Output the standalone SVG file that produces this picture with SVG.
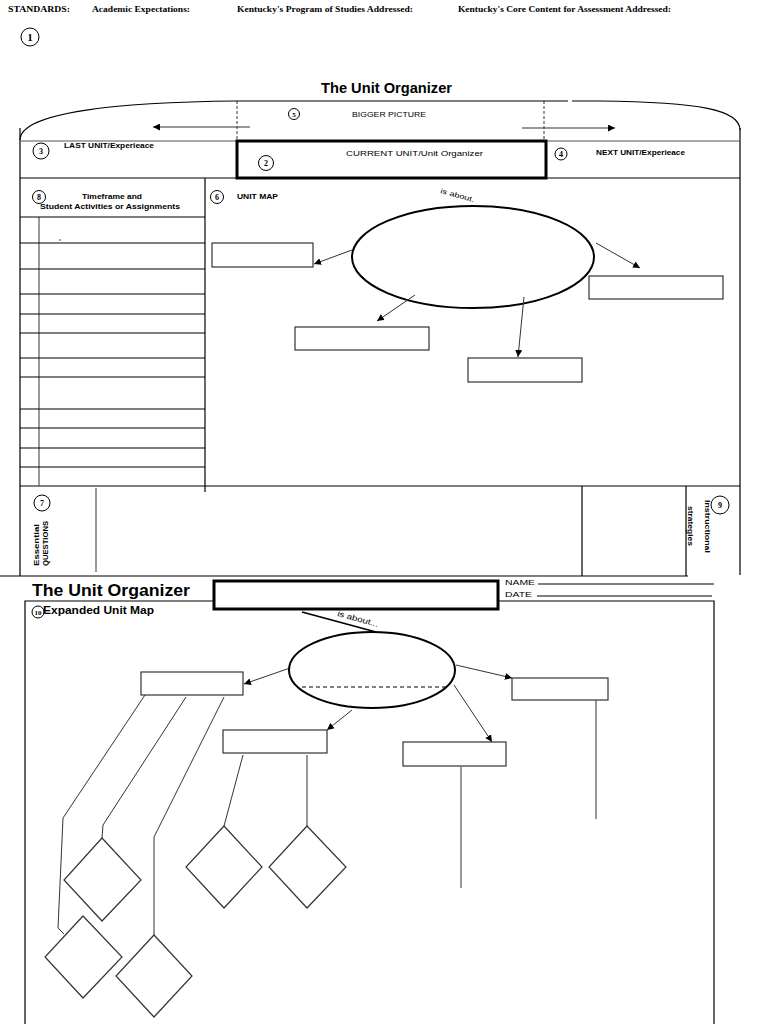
<svg xmlns="http://www.w3.org/2000/svg" width="768" height="1024" viewBox="0 0 768 1024">
<style>
.ser{font-family:"Liberation Serif",serif;font-weight:bold;font-size:9px;fill:#000}
.lbl{font-family:"Liberation Sans",Arial,sans-serif;font-size:7px;fill:#000}
.lblb{font-family:"Liberation Sans",Arial,sans-serif;font-size:7px;font-weight:bold;fill:#000}
.ttl{font-family:"Liberation Sans",Arial,sans-serif;font-weight:bold;fill:#000}
.box{fill:#fff;stroke:#333;stroke-width:1.2}
.thick{fill:#fff;stroke:#000;stroke-width:3}
.ln{stroke:#000;stroke-width:1.2;fill:none}
.lg{stroke:#555;stroke-width:1.2;fill:none}
.con{stroke:#333;stroke-width:1;fill:none}
.num{fill:#fff;stroke:#000;stroke-width:1}
.numt{font-family:"Liberation Serif",serif;font-size:8px;font-weight:bold;text-anchor:middle;fill:#000}
</style>
<defs>
<marker id="ah" viewBox="0 0 10 10" refX="10" refY="5" markerWidth="7" markerHeight="7" markerUnits="userSpaceOnUse" orient="auto">
<path d="M0,0 L10,5 L0,10 z" fill="#000"/>
</marker>
</defs>
<rect width="768" height="1024" fill="#fff"/>

<g id="standards">
<text class="ser" x="8" y="12" textLength="62" lengthAdjust="spacingAndGlyphs">STANDARDS:</text>
<text class="ser" x="92" y="12" textLength="98" lengthAdjust="spacingAndGlyphs">Academic Expectations:</text>
<text class="ser" x="237" y="12" textLength="176" lengthAdjust="spacingAndGlyphs">Kentucky's Program of Studies Addressed:</text>
<text class="ser" x="458" y="12" textLength="213" lengthAdjust="spacingAndGlyphs">Kentucky's Core Content for Assessment Addressed:</text>
<circle class="num" cx="30" cy="37" r="9"/>
<text class="numt" x="30" y="41" style="font-size:11px">1</text>
</g>

<g id="title1">
<text class="ttl" x="321" y="93" font-size="14" textLength="131" lengthAdjust="spacingAndGlyphs">The Unit Organizer</text>
</g>

<g id="frame1">
<path class="ln" d="M20,140 C20,112 120,102 237,101 L568,101" stroke-width="1.8"/>
<path class="ln" d="M572,101 L600,101 C700,102 740,110 740,130" stroke-width="1.8"/>
<line class="ln" x1="740" y1="128" x2="740" y2="575" stroke-width="1.5"/>
<line class="ln" x1="20" y1="128" x2="20" y2="576" stroke-width="1.5"/>
<line class="lg" x1="20" y1="141" x2="740" y2="141"/>
<line class="ln" x1="20" y1="178" x2="740" y2="178" stroke-width="1.5"/>
<line x1="237" y1="101" x2="237" y2="141" stroke="#000" stroke-width="0.8" stroke-dasharray="3,2"/>
<line x1="544" y1="101" x2="544" y2="141" stroke="#000" stroke-width="0.8" stroke-dasharray="3,2"/>
<line class="ln" x1="20" y1="486" x2="740" y2="486" stroke-width="2"/>
<line class="ln" x1="0" y1="576" x2="688" y2="576" stroke-width="1.5"/>
</g>

<g id="bigger-picture">
<circle class="num" cx="294" cy="114" r="5.5"/>
<text class="numt" x="294" y="117" style="font-size:7px">5</text>
<text class="lbl" x="352" y="117" textLength="74" lengthAdjust="spacingAndGlyphs">BIGGER PICTURE</text>
</g>

<g id="last-unit">
<circle class="num" cx="41" cy="151" r="8"/>
<text class="numt" x="41" y="154">3</text>
<text class="lblb" x="64" y="148" textLength="90" lengthAdjust="spacingAndGlyphs">LAST UNIT/Experieace</text>
</g>

<g id="current-unit">
<rect class="thick" x="237" y="141" width="309" height="37"/>
<circle class="num" cx="266" cy="163" r="7.5"/>
<text class="numt" x="266" y="166">2</text>
<text class="lbl" x="346" y="156" textLength="137" lengthAdjust="spacingAndGlyphs">CURRENT UNIT/Unit Organizer</text>
</g>

<g id="next-unit">
<circle class="num" cx="561" cy="154" r="6"/>
<text class="numt" x="561" y="157">4</text>
<text class="lblb" x="596" y="155" textLength="89" lengthAdjust="spacingAndGlyphs">NEXT UNIT/Experieace</text>
</g>

<g id="timeframe">
<line class="ln" x1="205" y1="178" x2="205" y2="492" stroke-width="1.5"/>
<line class="lg" x1="39" y1="217" x2="39" y2="486"/>
<circle class="num" cx="39" cy="197" r="6.5"/>
<text class="numt" x="39" y="200">8</text>
<text class="lblb" x="82" y="199" textLength="60" lengthAdjust="spacingAndGlyphs">Timeframe and</text>
<text class="lblb" x="40" y="209" textLength="140" lengthAdjust="spacingAndGlyphs">Student Activities or Assignments</text>
<g class="ln">
<line x1="20" y1="217" x2="205" y2="217"/>
<line x1="20" y1="243" x2="205" y2="243"/>
<line x1="20" y1="269" x2="205" y2="269"/>
<line x1="20" y1="294" x2="205" y2="294"/>
<line x1="20" y1="314" x2="205" y2="314"/>
<line x1="20" y1="333" x2="205" y2="333"/>
<line x1="20" y1="358" x2="205" y2="358"/>
<line x1="20" y1="377" x2="205" y2="377"/>
<line x1="20" y1="409" x2="205" y2="409"/>
<line x1="20" y1="428" x2="205" y2="428"/>
<line x1="20" y1="448" x2="205" y2="448"/>
<line x1="20" y1="467" x2="205" y2="467"/>
</g>
<circle cx="60" cy="240" r="0.7" fill="#000"/>
</g>

<g id="unit-map">
<circle class="num" cx="217" cy="197" r="6.5"/>
<text class="numt" x="217" y="200">6</text>
<text class="lblb" x="237" y="199" textLength="41" lengthAdjust="spacingAndGlyphs">UNIT MAP</text>
<text class="lbl" x="0" y="0" transform="translate(440,193) rotate(15)" textLength="35" lengthAdjust="spacingAndGlyphs">is about.</text>
</g>

<g id="map-center">
<ellipse cx="473" cy="257" rx="121" ry="51" fill="#fff" stroke="#000" stroke-width="2"/>
</g>
<g id="map-box-a"><rect class="box" x="212" y="243" width="101" height="24"/></g>
<g id="map-box-b"><rect class="box" x="589" y="276" width="134" height="23"/></g>
<g id="map-box-c"><rect class="box" x="295" y="327" width="134" height="23"/></g>
<g id="map-box-d"><rect class="box" x="468" y="358" width="114" height="24"/></g>

<g id="essential-questions">
<circle class="num" cx="42" cy="503" r="8"/>
<text class="numt" x="42" y="506">7</text>
<text class="lblb" transform="translate(39,566) rotate(-90)" textLength="42" lengthAdjust="spacingAndGlyphs">Essential</text>
<text class="lblb" transform="translate(48,566) rotate(-90)" textLength="45" lengthAdjust="spacingAndGlyphs">QUESTIONS</text>
<line class="lg" x1="96" y1="488" x2="96" y2="572"/>
</g>

<g id="instructional-strategies">
<line class="ln" x1="582" y1="486" x2="582" y2="576"/>
<line class="ln" x1="686" y1="486" x2="686" y2="576"/>
<text class="lblb" transform="translate(705,500) rotate(90)" textLength="53" lengthAdjust="spacingAndGlyphs">Instructional</text>
<text class="lblb" transform="translate(688,506) rotate(90)" textLength="40" lengthAdjust="spacingAndGlyphs">strategies</text>
<circle class="num" cx="720" cy="505" r="9" fill="none"/>
<text class="numt" x="720" y="508">9</text>
</g>

<!-- second page -->
<g id="title2">
<text class="ttl" x="32" y="596" font-size="17" textLength="158" lengthAdjust="spacingAndGlyphs">The Unit Organizer</text>
</g>
<g id="name-date">
<text class="lbl" x="505" y="585" style="font-size:8px" textLength="30" lengthAdjust="spacingAndGlyphs">NAME</text>
<line class="ln" x1="538" y1="584" x2="714" y2="584" stroke-width="0.8"/>
<text class="lbl" x="505" y="597" style="font-size:8px" textLength="27" lengthAdjust="spacingAndGlyphs">DATE</text>
<line class="ln" x1="537" y1="596" x2="712" y2="596" stroke-width="0.8"/>
</g>
<g id="frame2">
<path class="ln" d="M25,1024 L25,601 L714,601 L714,1024" stroke-width="2"/>
</g>
<g id="topic-box">
<rect class="thick" x="214" y="581" width="284" height="28"/>
</g>
<g id="expanded-map-label">
<circle class="num" cx="38" cy="612" r="6"/>
<text class="numt" x="38" y="615" style="font-size:7px">10</text>
<text class="ttl" x="43" y="614" font-size="10" textLength="111" lengthAdjust="spacingAndGlyphs">Expanded Unit Map</text>
</g>

<g id="connectors">
<line x1="302" y1="612" x2="376" y2="632" stroke="#000" stroke-width="1.8"/>
<text class="lbl" transform="translate(337,616) rotate(15)" style="font-size:8px" textLength="42" lengthAdjust="spacingAndGlyphs">is about...</text>
<line class="con" x1="352" y1="250" x2="314" y2="264" marker-end="url(#ah)"/>
<line class="con" x1="596" y1="243" x2="640" y2="268" marker-end="url(#ah)"/>
<line class="con" x1="415" y1="295" x2="377" y2="321" marker-end="url(#ah)"/>
<line class="con" x1="524" y1="297" x2="518" y2="357" marker-end="url(#ah)"/>
<line class="con" x1="250" y1="127" x2="153" y2="127" marker-end="url(#ah)"/>
<line class="con" x1="522" y1="128" x2="615" y2="128" marker-end="url(#ah)"/>

<line class="con" x1="290" y1="668" x2="244" y2="684" marker-end="url(#ah)"/>
<line class="con" x1="352" y1="710" x2="327" y2="730" marker-end="url(#ah)"/>
<line class="con" x1="456" y1="665" x2="512" y2="678" marker-end="url(#ah)"/>
<line class="con" x1="454" y1="685" x2="492" y2="742" marker-end="url(#ah)"/>

<line class="con" x1="596" y1="698" x2="596" y2="819"/>
<line class="con" x1="461" y1="767" x2="461" y2="888"/>
<polyline class="con" points="147,692 63,818 58,928 64,934"/>
<polyline class="con" points="186,697 103,825 102,838"/>
<polyline class="con" points="224,697 154,837 154,935"/>
<line class="con" x1="243" y1="755" x2="224" y2="826"/>
<line class="con" x1="307" y1="755" x2="307" y2="826"/>
</g>

<g id="center2">
<ellipse cx="372" cy="670" rx="83" ry="38" fill="#fff" stroke="#000" stroke-width="2"/>
<line x1="302" y1="687" x2="448" y2="687" stroke="#000" stroke-width="1" stroke-dasharray="4,3"/>
</g>
<g id="box-e"><rect class="box" x="141" y="672" width="102" height="23"/></g>
<g id="box-f"><rect class="box" x="223" y="730" width="104" height="23"/></g>
<g id="box-g"><rect class="box" x="512" y="678" width="96" height="22"/></g>
<g id="box-h"><rect class="box" x="403" y="742" width="103" height="24"/></g>
<g id="diamond-1"><polygon class="box" points="102,838 141,880 102,921 64,880"/></g>
<g id="diamond-2"><polygon class="box" points="83,916 122,957 83,998 45,957"/></g>
<g id="diamond-3"><polygon class="box" points="224,826 262,867 224,908 186,867"/></g>
<g id="diamond-4"><polygon class="box" points="307,826 346,867 307,908 269,867"/></g>
<g id="diamond-5"><polygon class="box" points="154,935 192,976 154,1017 116,976"/></g>
</svg>
